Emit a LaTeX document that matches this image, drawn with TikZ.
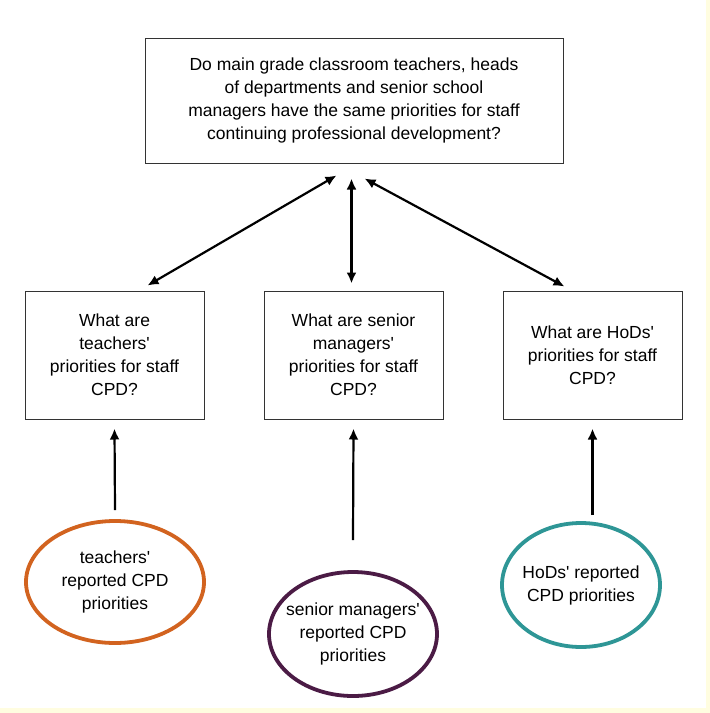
\documentclass[tikz,border=0pt]{standalone}
\usepackage{fontspec}
\setmainfont{Liberation Sans}
\usetikzlibrary{shapes.geometric,arrows.meta,calc}
\definecolor{bgy}{HTML}{FFFDE0}
\definecolor{corange}{HTML}{D2631F}
\definecolor{cpurple}{HTML}{4B1B45}
\definecolor{cteal}{HTML}{2E9696}
\newcommand{\ap}{\textquotesingle}
\begin{document}
\begin{tikzpicture}[x=1pt,y=-1pt,
  box/.style={draw=black!80,line width=1pt,align=center,font=\fontsize{17.5}{23}\selectfont,inner sep=0pt},
  ell/.style={align=center,font=\fontsize{17.5}{23}\selectfont,inner sep=0pt},
  ring/.style={line width=3.8pt},
  arr/.style={line width=2.2pt,-{Latex[length=11pt,width=10pt]}},
  darr/.style={line width=2.2pt,{Latex[length=11pt,width=10pt]}-{Latex[length=11pt,width=10pt]}}]
\fill[bgy] (0,0) rectangle (710,713);
\fill[white] (0,0) rectangle (706,708);
\useasboundingbox (0,0) rectangle (710,713);
\node[box,minimum width=418,minimum height=125] (top) at (354,100.5) {Do main grade classroom teachers, heads\\of departments and senior school\\managers have the same priorities for staff\\continuing professional development?};
\node[box,minimum width=179,minimum height=128] (b1) at (114.5,355) {What are\\teachers\ap\\priorities for staff\\CPD?};
\node[box,minimum width=179,minimum height=128] (b2) at (353.5,355) {What are senior\\managers\ap\\priorities for staff\\CPD?};
\node[box,minimum width=179,minimum height=128] (b3) at (592.5,355) {What are HoDs\ap\\priorities for staff\\CPD?};
\node[ell] (e1) at (115,582) {teachers\ap\\reported CPD\\priorities};
\node[ell] (e2) at (353,634) {senior managers\ap\\reported CPD\\priorities};
\node[ell] (e3) at (581,585) {HoDs\ap{} reported\\CPD priorities};
\draw[ring,corange] (e1) ellipse [x radius=89,y radius=61];
\draw[ring,cpurple] (e2) ellipse [x radius=84,y radius=62];
\draw[ring,cteal] (e3) ellipse [x radius=79,y radius=62];
\draw[darr] ($(top.south west)+(192,12)$) -- ($(b1.north west)+(123,-5)$);
\draw[darr] ($(top.south west)+(207,15)$) -- ($(b2.north west)+(88,-7)$);
\draw[darr] ($(top.south west)+(220,15)$) -- ($(b3.north west)+(62,-4)$);
\draw[arr] ($(e1)+(0,-72)$) -- ($(b1.south)+(0,9)$);
\draw[arr] ($(e2)+(0,-94)$) -- ($(b2.south)+(0,9)$);
\draw[arr] ($(b3.south |- e3)+(0,-70)$) -- ($(b3.south)+(0,9)$);
\end{tikzpicture}
\end{document}
